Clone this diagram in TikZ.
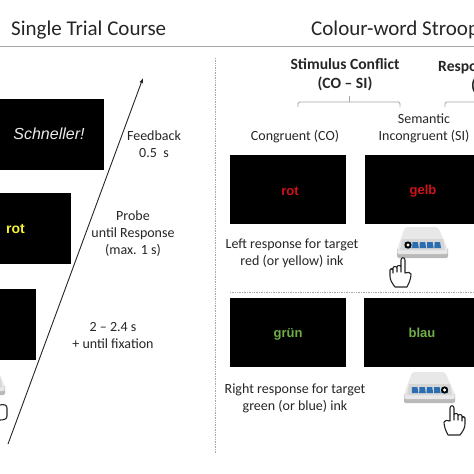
\documentclass[tikz,border=0pt]{standalone}
\usepackage{fontspec}
\setmainfont{Carlito}
\newfontfamily\arialfont{Liberation Sans}
\usetikzlibrary{arrows.meta}
\definecolor{inkdark}{HTML}{262626}
\definecolor{rulegray}{HTML}{A6A6A6}
\definecolor{wordred}{HTML}{D0121B}
\definecolor{wordgreen}{HTML}{70AD47}
\definecolor{wordyellow}{HTML}{F4F32E}
\definecolor{padblue}{HTML}{2A6DB0}

\begin{document}
\begin{tikzpicture}[
  x=1pt, y=-1pt,
  font=\fontsize{14}{15}\selectfont,
  every node/.style={text=inkdark, inner sep=0pt},
  heading/.style={font=\fontsize{21}{23}\selectfont, anchor=base west},
  caption/.style={align=center},
  conflict/.style={font=\fontsize{15.6}{19}\selectfont\bfseries},
  screen/.style={fill=black, draw=none},
  word/.style={font=\arialfont\fontsize{13}{15}\selectfont\bfseries},
  rulerline/.style={draw=rulegray, line width=0.9pt},
  dotline/.style={draw=rulegray, line width=0.7pt, densely dotted},
  bracket/.style={draw=rulegray, line width=0.8pt},
  timeline/.style={-{Latex[length=5pt,width=4pt]}, draw=inkdark, line width=0.9pt},
  pointer/.style={draw=inkdark, line width=1.1pt, fill=white, line join=round},
  pics/padbox/.style={code={
    \fill[gray!55, rounded corners=1.5pt] (0,21) -- (51,21) -- (51,31) -- (0,31) -- cycle;
    \fill[gray!18, rounded corners=2pt] (8,0) -- (41,0) -- (50,20) -- (51,27) -- (0,27) -- (1,20) -- cycle;
    \fill[gray!32] (5,12) -- (46,12) -- (48,23) -- (3,23) -- cycle;
    \foreach \k in {0,1,2,3,4}
      \fill[padblue] (8+7.4*\k,15) -- ++(5.4,0) -- ++(1,6) -- ++(-6.6,0) -- cycle;
    \fill[black] (#1,18) circle (3.6);
    \fill[white] (#1,18) circle (1.7);
  }},
  pics/pointhand/.style={code={
    \draw[pointer] (5,29) .. controls (2,25) and (0,22) .. (0,18) -- (0,12)
      .. controls (0,10) and (3,10) .. (3,12) -- (3,15) -- (3,10)
      .. controls (3,8) and (7,8) .. (7,10) -- (7,14) -- (7,9)
      .. controls (7,7) and (11,7) .. (11,9) -- (11,14) -- (11,2)
      .. controls (11,-1) and (15,-1) .. (15,2) -- (15,15)
      .. controls (18,14) and (20,14) .. (21,16)
      .. controls (21,21) and (19,25) .. (17,29) -- cycle;
  }}
]
\useasboundingbox (0,0) rectangle (474,474);
\clip (0,0) rectangle (474,474);
\fill[white] (0,0) rectangle (474,474);

\node[heading] (titletrial) at (11,35) {Single Trial Course};
\node[heading] (titlestroop) at (311,35) {Colour-word Stroop};

\coordinate (ruleleft) at (0,46);
\coordinate (ruleright) at (474,46);
\draw[rulerline] (ruleleft) -- (ruleright);
\coordinate (dotvtop) at (215,58);
\coordinate (dotvend) at (215,454);
\draw[dotline] (dotvtop) -- (dotvend);
\coordinate (dothleft) at (230,292);
\coordinate (dothright) at (474,292);
\draw[dotline] (dothleft) -- (dothright);

\coordinate (timestart) at (8,444);
\coordinate (timeend) at (143,78);
\draw[timeline] (timestart) -- (timeend);

\fill[screen] (0,99) rectangle (104,170);
\fill[screen] (0,193) rectangle (71,264);
\fill[screen] (0,289) rectangle (36,360);
\node[font=\arialfont\fontsize{16}{18}\selectfont\itshape, text=white!92!black] (fbword) at (49,134) {Schneller!};
\node[word, font=\arialfont\fontsize{14}{16}\selectfont\bfseries, text=wordyellow] (probeword) at (15.5,229) {rot};

\node[caption] (fbtext) at (154,144.5) {Feedback\\[2pt]0.5\ \ s};
\node[caption] (probetext) at (133,234) {Probe\\[2pt]until Response\\[2pt](max. 1 s)};
\node[caption] (fixtext) at (113,336) {2 -- 2.4 s\\[2pt]+ until fixation};

\pic at (-46,364) {padbox=40};
\draw[pointer] (0,405) .. controls (4,404) and (7,405) .. (7,408) -- (7,416) .. controls (7,419) and (4,420) .. (0,420);

\node[conflict, caption] (stimconflict) at (345,75) {Stimulus Conflict\\(CO -- SI)};
\node[conflict, anchor=base west] (respconflict) at (438,71) {Respo};
\node[conflict, anchor=base west] (respsub) at (471,90) {(};

\coordinate (brl) at (298,107);
\coordinate (brr) at (400,107);
\coordinate (brm) at (349,96);
\draw[bracket, rounded corners=1.5pt] (brl) -- ++(0,-5) -| (brr);
\draw[bracket] (brm) -- ++(0,6);
\coordinate (brb) at (445,107);
\coordinate (brbend) at (474,102);
\draw[bracket, rounded corners=1.5pt] (brb) |- (brbend);

\node (congruent) at (295,137) {Congruent (CO)};
\node[caption] (incongruent) at (424,128.5) {Semantic\\[2pt]Incongruent (SI)};

\fill[screen] (230,155) rectangle (346,224);
\fill[screen] (365,155) rectangle (474,224);
\fill[screen] (230,298) rectangle (346,367);
\fill[screen] (364,298) rectangle (474,367);

\node[word, text=wordred] (wordrot) at (290,191) {rot};
\node[word, text=wordred] (wordgelb) at (423,191) {gelb};
\node[word, text=wordgreen] (wordgruen) at (288,334) {grün};
\node[word, text=wordgreen] (wordblau) at (422,333) {blau};

\node[caption] (leftresp) at (292,253.5) {Left response for target\\[2pt]red (or yellow) ink};
\node[caption] (rightresp) at (295,398.5) {Right response for target\\[2pt]green (or blue) ink};

\pic at (397,227) {padbox=11};
\pic at (390,258) {pointhand};
\pic at (404,372) {padbox=40.6};
\pic[xscale=-1] at (465,406) {pointhand};
\end{tikzpicture}
\end{document}
